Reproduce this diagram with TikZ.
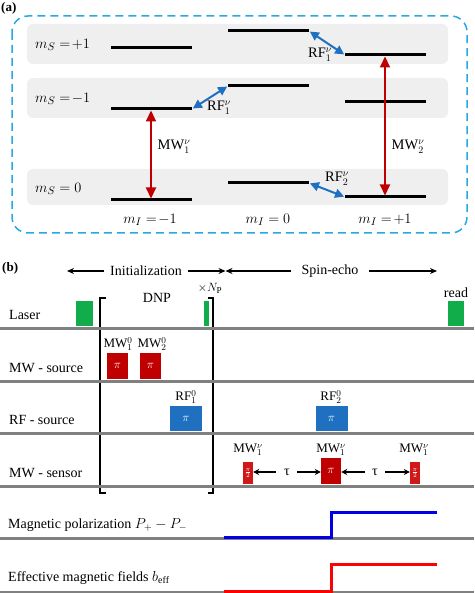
\documentclass[tikz,border=0pt]{standalone}
\usepackage{fontspec}
\setmainfont{Liberation Serif}
\usetikzlibrary{arrows.meta,calc}
\definecolor{dred}{HTML}{C00000}
\definecolor{sred}{HTML}{D01818}
\definecolor{rfblue}{HTML}{1F70C1}
\definecolor{lgreen}{HTML}{12AD4B}
\definecolor{dashblue}{HTML}{29A9E1}
\definecolor{bandgray}{HTML}{EFEFEF}
\definecolor{basegray}{HTML}{808080}
\definecolor{polblue}{HTML}{0000E6}
\definecolor{fieldred}{HTML}{FF0000}
\tikzset{
  level/.style={line width=3pt, black},
  band/.style={fill=bandgray, draw=none, rounded corners=6pt},
  lab/.style={font=\fontsize{14}{16}\selectfont, inner sep=0pt},
  alab/.style={font=\fontsize{15.5}{17}\selectfont, inner sep=0pt},
  plab/.style={font=\fontsize{14.5}{16}\selectfont, inner sep=0pt},
  qlab/.style={font=\fontsize{13}{15}\selectfont, inner sep=0pt},
  mwarr/.style={draw=dred, line width=2pt, {Triangle[length=11pt,width=10pt]}-{Triangle[length=11pt,width=10pt]}, fill=dred},
  rfarr/.style={draw=rfblue, line width=2pt, {Triangle[length=9pt,width=9pt]}-{Triangle[length=9pt,width=9pt]}, fill=rfblue},
  baseline/.style={draw=basegray, line width=3pt},
  pulse/.style={anchor=south, inner sep=0pt, text=white, font=\fontsize{13}{15}\selectfont},
  mwpulse/.style={pulse, fill=dred, minimum width=21pt, minimum height=26pt},
  rfpulse/.style={pulse, fill=rfblue, minimum width=32pt, minimum height=25pt},
  lpulse/.style={anchor=south, inner sep=0pt, fill=lgreen, minimum height=25pt},
  halfpulse/.style={pulse, fill=sred, minimum width=10pt, minimum height=22pt, font=\fontsize{8}{9}\selectfont},
  tarr/.style={-{Stealth[length=6pt,width=6pt]}, line width=1.2pt, black},
  barr/.style={-{Stealth[length=7pt,width=6pt]}, line width=1.2pt, black},
  bracket/.style={line width=1.6pt, black},
}
\begin{document}
\begin{tikzpicture}[x=1pt,y=-1pt]
\useasboundingbox (0,0) rectangle (474,593);

% ---------------- (a) ----------------
\node[font=\bfseries\fontsize{13}{15}\selectfont, anchor=west, inner sep=0pt] (la) at (1,8) {(a)};
\draw[dashblue, line width=1.5pt, dash pattern=on 8pt off 5pt, rounded corners=16pt] (12,16) rectangle (467,233);
\fill[band] (27,24) rectangle (448,64);
\fill[band] (27,78) rectangle (448,118);
\fill[band] (27,169) rectangle (448,205);

% levels
\draw[level] (111,48) coordinate (ApL) -- (192,48) coordinate (ApR);
\draw[level] (111,109) coordinate (AmL) -- (192,109) coordinate (AmR);
\draw[level] (111,200) coordinate (AzL) -- (192,200) coordinate (AzR);
\draw[level] (228,31) coordinate (BpL) -- (309,31) coordinate (BpR);
\draw[level] (228,86) coordinate (BmL) -- (309,86) coordinate (BmR);
\draw[level] (228,183) coordinate (BzL) -- (309,183) coordinate (BzR);
\draw[level] (345,55) coordinate (CpL) -- (426,55) coordinate (CpR);
\draw[level] (345,102) coordinate (CmL) -- (426,102) coordinate (CmR);
\draw[level] (345,197) coordinate (CzL) -- (426,197) coordinate (CzR);
\coordinate (Amc) at (151,109);
\coordinate (Azc) at (151,200);
\coordinate (Cpc) at (385,55);
\coordinate (Czc) at (385,197);

% state labels
\node[alab, anchor=west] (msp) at (35,45) {$m_S=\!+1$};
\node[alab, anchor=west] (msm) at (35,99) {$m_S=\!-1$};
\node[alab, anchor=west] (msz) at (35,189) {$m_S=0$};
\node[alab] (mim) at (150,220) {$m_I=\!-1$};
\node[alab] (miz) at (268,220) {$m_I=0$};
\node[alab] (mip) at (385,220) {$m_I=\!+1$};

% transitions
\draw[mwarr, shorten <=1.5pt, shorten >=1.5pt] (Amc) -- (Azc);
\draw[mwarr, shorten <=1.5pt, shorten >=1.5pt] (Cpc) -- (Czc);
\draw[rfarr, shorten <=1pt, shorten >=1pt] (AmR) -- (BmL);
\draw[rfarr, shorten <=1pt, shorten >=1pt] (BpR) -- (CpL);
\draw[rfarr, shorten <=1pt, shorten >=1pt] (BzR) -- (CzL);
\node[plab] (mw1a) at (174,147) {MW$^{\nu}_{1}$};
\node[plab] (mw2a) at (408,147) {MW$^{\nu}_{2}$};
\node[plab] (rf1a) at (219,108) {RF$^{\nu}_{1}$};
\node[plab] (rf1b) at (320,55) {RF$^{\nu}_{1}$};
\node[plab] (rf2a) at (337,179) {RF$^{\nu}_{2}$};

% ---------------- (b) ----------------
\node[font=\bfseries\fontsize{13}{15}\selectfont, anchor=west, inner sep=0pt] (lb) at (2,268) {(b)};
\node[lab] (init) at (146,271) {Initialization};
\node[lab] (spin) at (330,271) {Spin-echo};
\coordinate (iL) at (67,271);
\coordinate (mid) at (225.5,271);
\coordinate (sR) at (437,271);
\draw[barr] ($(init.west)+(-6,0)$) -- (iL);
\draw[barr] ($(init.east)+(6,0)$) -- (mid);
\draw[barr] ($(spin.west)+(-10,0)$) -- (mid);
\draw[barr] ($(spin.east)+(10,0)$) -- (sR);

\node[qlab] (np) at (210,288) {$\times N_{\mathrm{P}}$};
\node[lab] (dnp) at (157,298) {DNP};
\node[lab] (read) at (456,293) {read};

% brackets
\coordinate (bl1) at (106,298); \coordinate (bl2) at (106,493);
\coordinate (br1) at (208,298); \coordinate (br2) at (208,493);
\draw[bracket] (bl1) -- ++(-6,0) |- (bl2);
\draw[bracket] (br1) -- ++(5,0) |- (br2);

% baselines
\draw[baseline] (0,328) coordinate (b1L) -- (474,328) coordinate (b1R);
\draw[baseline] (0,381) coordinate (b2L) -- (474,381) coordinate (b2R);
\draw[baseline] (0,433) coordinate (b3L) -- (474,433) coordinate (b3R);
\draw[baseline] (0,486) coordinate (b4L) -- (474,486) coordinate (b4R);
\draw[baseline] (0,538) coordinate (b5L) -- (474,538) coordinate (b5R);
\draw[baseline] (0,592) coordinate (b6L) -- (474,592) coordinate (b6R);

% row labels
\node[lab, anchor=west] (laser) at (9,315) {Laser};
\node[lab, anchor=west] (mws) at (9,368) {MW - source};
\node[lab, anchor=west] (rfs) at (9,420) {RF - source};
\node[lab, anchor=west] (mwsen) at (9,473) {MW - sensor};
\node[lab, anchor=west] (mp) at (8,525) {Magnetic polarization $P_{+}-P_{-}$};
\node[lab, anchor=west] (emf) at (8,578) {Effective magnetic fields $b_{\mathrm{eff}}$};

% laser pulses
\node[lpulse, minimum width=17pt] (g1) at (84.5,326.5) {};
\node[lpulse, minimum width=5pt] (g2) at (206.5,326.5) {};
\node[lpulse, minimum width=16pt] (g3) at (456,326.5) {};

% MW source pulses
\node[mwpulse] (m1) at (117.5,379.5) {$\pi$};
\node[mwpulse] (m2) at (150.5,379.5) {$\pi$};
\node[qlab, anchor=south] (m1l) at (118,351) {MW$^{0}_{1}$};
\node[qlab, anchor=south] (m2l) at (152,351) {MW$^{0}_{2}$};

% RF source pulses
\node[rfpulse] (r1) at (186,431.5) {$\pi$};
\node[rfpulse] (r2) at (331.5,431.5) {$\pi$};
\node[qlab, anchor=south] (r1l) at (186,404) {RF$^{0}_{1}$};
\node[qlab, anchor=south] (r2l) at (331,404) {RF$^{0}_{2}$};

% MW sensor pulses
\node[halfpulse] (s1) at (248,484.5) {$\frac{\pi}{2}$};
\node[mwpulse, minimum width=20pt, minimum height=26pt] (s2) at (331,484.5) {$\pi$};
\node[halfpulse] (s3) at (415,484.5) {$\frac{\pi}{2}$};
\node[qlab, anchor=south] (s1l) at (248,456) {MW$^{\nu}_{1}$};
\node[qlab, anchor=south] (s2l) at (331,456) {MW$^{\nu}_{1}$};
\node[qlab, anchor=south] (s3l) at (414,456) {MW$^{\nu}_{1}$};
\node[lab] (t1) at (287,472) {τ};
\node[lab] (t2) at (375,472) {τ};
\draw[tarr] ($(t1)+(-11,0)$) -- (s1.east |- t1);
\draw[tarr] ($(t1)+(10,0)$) -- (s2.west |- t1);
\draw[tarr] ($(t2)+(-10,0)$) -- (s2.east |- t2);
\draw[tarr] ($(t2)+(10,0)$) -- (s3.west |- t2);

% step curves
\coordinate (pb0) at (224,537); \coordinate (pb1) at (331,537);
\coordinate (pb2) at (331,512); \coordinate (pb3) at (437,512);
\draw[polblue, line width=3pt] (pb0) -- (pb1) -- (pb2) -- (pb3);
\coordinate (fr0) at (224,591); \coordinate (fr1) at (331,591);
\coordinate (fr2) at (331,564); \coordinate (fr3) at (437,564);
\draw[fieldred, line width=3pt] (fr0) -- (fr1) -- (fr2) -- (fr3);
\end{tikzpicture}
\end{document}
